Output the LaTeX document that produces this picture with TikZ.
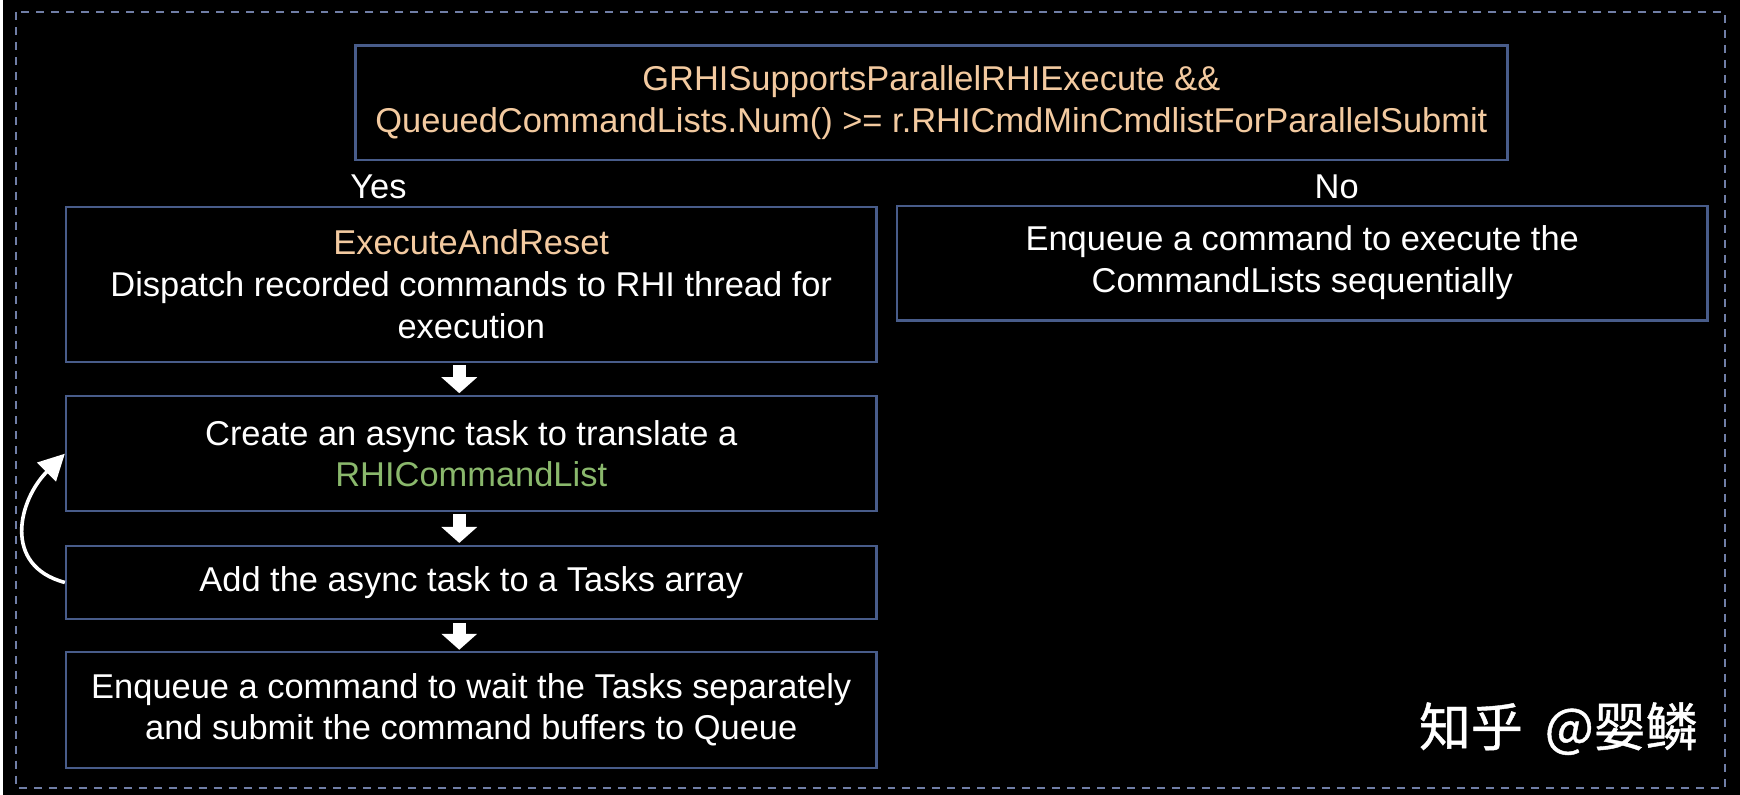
\documentclass[tikz,border=0pt]{standalone}
\usepackage{fontspec}
\setmainfont{Liberation Sans}
\newfontfamily\cjk[FakeBold=0.8]{Noto Sans CJK SC}
\usepackage{xcolor}
\usepackage{tikz}
\usetikzlibrary{arrows.meta}
\definecolor{boxline}{RGB}{72,92,138}
\definecolor{frameline}{RGB}{112,126,166}
\definecolor{peach}{RGB}{243,202,160}
\definecolor{leaf}{RGB}{138,184,108}

\begin{document}
\begin{tikzpicture}[x=0.5pt,y=-0.5pt,
  box/.style={draw=boxline, line width=1.1pt, text=white, align=center, inner sep=0pt, minimum width=406pt, font=\fontsize{17.25}{21}\selectfont},
  flow/.style={white, line width=6.5pt, -{Triangle[width=17.5pt,length=8pt]}},
  back/.style={white, line width=1.8pt, -{Triangle[width=13pt,length=13pt]}}]
\fill[black] (0,0) rectangle (1740,796);
\draw[frameline, line width=1pt, dash pattern=on 4pt off 3.5pt] (13,12) rectangle (1725,789);
\node[box, minimum width=577pt, minimum height=57.5pt, text=peach] (cond) at (930,103) {GRHISupportsParallelRHIExecute \&\&\\QueuedCommandLists.Num() >= r.RHICmdMinCmdlistForParallelSubmit};
\node[text=white, inner sep=0pt, font=\fontsize{17.25}{21}\selectfont] (yes) at (376,187) {Yes};
\node[text=white, inner sep=0pt, font=\fontsize{17.25}{21}\selectfont] (no) at (1336,187) {No};
\node[box, minimum height=78pt] (exec) at (469,285) {{\color{peach}ExecuteAndReset}\\Dispatch recorded commands to RHI thread for\\execution};
\node[box, minimum height=57.5pt] (seq) at (1301.5,263.5) {Enqueue a command to execute the\\CommandLists sequentially};
\node[box, minimum height=57.5pt] (create) at (469,454.5) {Create an async task to translate a\\{\color{leaf}RHICommandList}};
\node[box, minimum height=36.5pt] (add) at (469,583.5) {Add the async task to a Tasks array};
\node[box, minimum height=58pt] (submit) at (469,711) {Enqueue a command to wait the Tasks separately\\and submit the command buffers to Queue};
\draw[flow] ([xshift=-6pt,yshift=-1pt]exec.south) -- ([xshift=-6pt,yshift=1pt]create.north);
\draw[flow] ([xshift=-6pt,yshift=-1pt]create.south) -- ([xshift=-6pt,yshift=1pt]add.north);
\draw[flow] ([xshift=-6pt,yshift=-1.5pt]add.south) -- ([xshift=-6pt,yshift=0.5pt]submit.north);
\draw[back] (add.west) to[out=165,in=225,looseness=1.3] (create.west);
\node[text=white, inner sep=0pt, font=\cjk\fontsize{26}{26}\selectfont] (mark) at (1558,730) {知乎\hspace{11pt}@婴鳞};
\end{tikzpicture}
\end{document}
